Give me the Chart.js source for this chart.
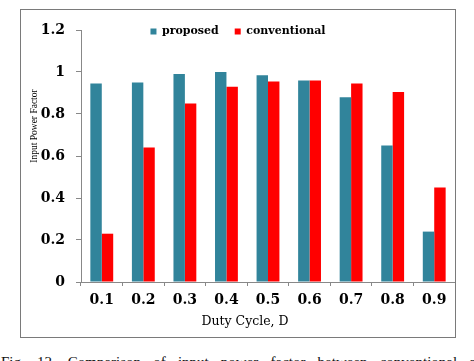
<!DOCTYPE html>
<html>
<head>
<meta charset="utf-8">
<script src="https://cdn.jsdelivr.net/npm/chart.js@4/dist/chart.umd.min.js"></script>
<style>
    html, body { margin: 0; padding: 0; background: #fff; overflow: hidden; }
    body { width: 474px; height: 361px; position: relative; }
    #frame {
        position: absolute; left: 20px; top: 9px;
        width: 434px; height: 327px;
        border: 1px solid #7a7a7a;
    }
    #caption {
        position: absolute; left: 1px; top: 354px; width: 490px;
        font: 15px "Liberation Serif", serif; line-height: 17px;
        text-align: justify; text-align-last: justify; white-space: nowrap;
        color: #111;
    }
</style>
</head>
<body>
<div id="frame"><canvas id="pfChart" width="434" height="327"></canvas></div>
<div id="caption">Fig. 12. Comparison of input power factor between conventional and</div>
<script>
const dutyCycles = ["0.1", "0.2", "0.3", "0.4", "0.5", "0.6", "0.7", "0.8", "0.9"];
const proposed = [0.945, 0.95, 0.99, 1.0, 0.985, 0.96, 0.88, 0.65, 0.24];
const conventional = [0.23, 0.64, 0.85, 0.93, 0.955, 0.96, 0.945, 0.905, 0.45];
const yTicks = [0, 0.2, 0.4, 0.6, 0.8, 1, 1.2];

const tickFont = { family: "DejaVu Serif", size: 14, weight: "bold" };

// legend sits inside the plot, so keep its layout box short
const shortLegend = {
    id: "shortLegend",
    beforeInit(chart) {
        const fit = chart.legend.fit;
        chart.legend.fit = function () {
            fit.call(this);
            this.height = 20;
        };
    },
    afterLayout(chart) {
        // let the legend draw past its short box (it clips to it)
        chart.legend.bottom = chart.legend.top + 45;
    }
};

// axis titles are placed off-centre in the original
const axisTitles = {
    id: "axisTitles",
    afterDraw(chart) {
        const ctx = chart.ctx;
        ctx.save();
        ctx.fillStyle = "#000";
        ctx.textAlign = "center";
        ctx.textBaseline = "middle";
        ctx.font = "12.5px 'DejaVu Serif'";
        ctx.fillText("Duty Cycle, D", 224, 312);
        ctx.translate(13, 116);
        ctx.rotate(-Math.PI / 2);
        ctx.font = "9.5px 'Liberation Serif'";
        ctx.fillText("Input Power Factor", 0, 0);
        ctx.restore();
    }
};

new Chart(document.getElementById("pfChart"), {
    type: "bar",
    data: {
        labels: dutyCycles,
        datasets: [
            { label: "proposed", data: proposed, backgroundColor: "#31849b" },
            { label: "conventional", data: conventional, backgroundColor: "#ff0000" }
        ]
    },
    options: {
        responsive: false,
        animation: false,
        layout: { padding: 0 },
        datasets: { bar: { barPercentage: 1, categoryPercentage: 0.55 } },
        plugins: {
            tooltip: { enabled: false },
            legend: {
                position: "top",
                labels: {
                    color: "#000",
                    font: { family: "DejaVu Serif", size: 11, weight: "bold" },
                    boxWidth: 6,
                    boxHeight: 6,
                    padding: 16
                }
            }
        },
        scales: {
            x: {
                grid: { display: true, drawOnChartArea: false, tickLength: 4, color: "#888", offset: true },
                border: { color: "#888" },
                ticks: { color: "#000", font: tickFont, padding: 6 },
                afterFit(scale) { scale.height = 55; }
            },
            y: {
                min: 0,
                max: 1.2,
                afterBuildTicks(scale) { scale.ticks = yTicks.map(v => ({ value: v })); },
                grid: { display: true, drawOnChartArea: false, tickLength: 5, color: "#888" },
                border: { color: "#888" },
                ticks: {
                    color: "#000",
                    font: tickFont,
                    padding: 11,
                    callback: v => String(Math.round(v * 10) / 10)
                },
                afterFit(scale) { scale.width = 60; }
            }
        }
    },
    plugins: [shortLegend, axisTitles]
});
</script>
</body>
</html>
